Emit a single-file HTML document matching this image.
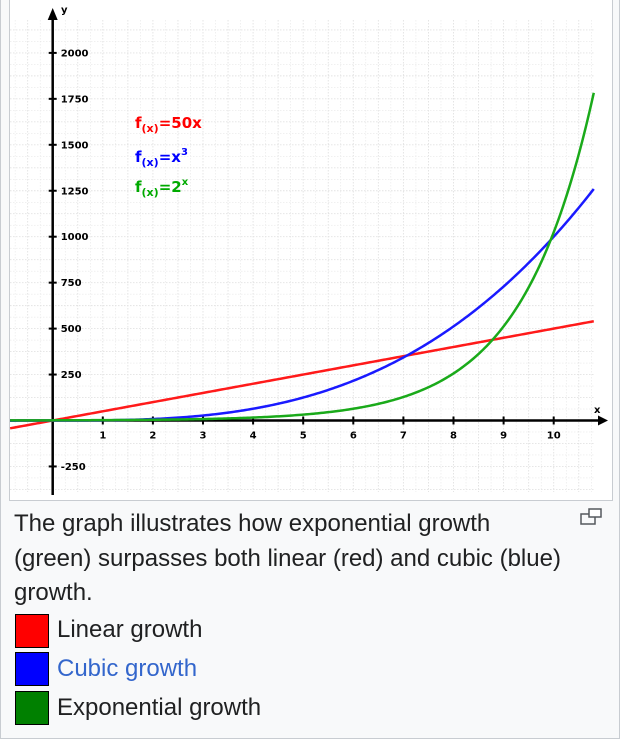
<!DOCTYPE html>
<html><head><meta charset="utf-8"><style>
body{margin:0;width:622px;height:740px;background:#fff;font-family:"Liberation Sans",sans-serif;overflow:hidden}
#fig{position:absolute;left:0;top:0;width:618px;height:738px;background:#f8f9fa;border:1px solid #c8ccd1;border-top:none}
#imgbox{position:absolute;left:8px;top:0;width:602px;height:500px;background:#fff;border:1px solid #c8ccd1;border-top:none}
.cap{position:absolute;left:14px;top:507px;width:555px;font-size:24px;line-height:34.5px;color:#202122}
.leg{position:absolute;left:15px;width:32px;height:32px;border:1px solid #000}
.lt{position:absolute;left:57px;font-size:24px;color:#202122}
</style></head><body>
<div id="fig">
<div id="imgbox"></div>
</div>
<svg id="chart" width="622" height="500" style="position:absolute;left:0;top:0">
<g id="grid"></g><g id="axes"></g><g id="series"></g>
<g font-family="DejaVu Sans, Liberation Sans, sans-serif" font-weight="bold" font-size="15">
<text x="135" y="128" fill="#ff0000">f<tspan font-size="11" dy="4">(x)</tspan><tspan dy="-4">=50x</tspan></text>
<text x="135" y="162" fill="#0000ff">f<tspan font-size="11" dy="4">(x)</tspan><tspan dy="-4">=x</tspan><tspan font-size="10" dy="-7">3</tspan></text>
<text x="135" y="192" fill="#00aa00">f<tspan font-size="11" dy="4">(x)</tspan><tspan dy="-4">=2</tspan><tspan font-size="10" dy="-7">x</tspan></text>
</g>
</svg>
<div class="cap">The graph illustrates how exponential growth (green) surpasses both linear (red) and cubic (blue) growth.</div>
<svg width="24" height="20" style="position:absolute;left:580px;top:508px"><rect x="1" y="6" width="14" height="10" fill="none" stroke="#54595d" stroke-width="1.5"/><rect x="9" y="1" width="12" height="8" fill="#fff" stroke="#54595d" stroke-width="1.5"/></svg>
<div class="leg" style="top:614px;background:#ff0000"></div>
<div class="lt" style="top:616px">Linear growth</div>
<div class="leg" style="top:652px;background:#0000ff"></div>
<div class="lt" style="top:655px;color:#3366cc">Cubic growth</div>
<div class="leg" style="top:691px;background:#008000"></div>
<div class="lt" style="top:694px">Exponential growth</div>
<script>
const xTicks=[1,2,3,4,5,6,7,8,9,10];
const yTicks=[-250,250,500,750,1000,1250,1500,1750,2000];
const linearCoef=[50];
const cubicPower=[3];
const expBase=[2];
const xDomain=[-0.85,10.8];
const NS="http://www.w3.org/2000/svg";
const X0=52.7,XS=50.1,Y0=420.5,YS=0.1838;
const sx=v=>X0+v*XS, sy=v=>Y0-v*YS;
function mk(t,a,p){const e=document.createElementNS(NS,t);for(const k in a)e.setAttribute(k,a[k]);p.appendChild(e);return e;}
const grid=document.getElementById('grid'),axes=document.getElementById('axes'),ser=document.getElementById('series');
for(let v=-0.75;v<=10.8;v+=0.25){const l=mk('line',{x1:sx(v),x2:sx(v),y1:20,y2:492,stroke:'#e2e2e2','stroke-width':Number.isInteger(v*2)?0.9:0.5,'stroke-dasharray':'1.5 1.5'},grid);

}
for(let v=-375;v<=2200;v+=62.5){if(sy(v)<20)continue;const l=mk('line',{x1:10,x2:595,y1:sy(v),y2:sy(v),stroke:'#e2e2e2','stroke-width':v%125==0?0.9:0.5,'stroke-dasharray':'1.5 1.5'},grid);

}
const xa=mk('line',{x1:10,x2:600,y1:Y0,y2:Y0,stroke:'#000','stroke-width':2.5},axes);


mk('polygon',{points:`608,${Y0} 598,${Y0-5} 598,${Y0+5}`,fill:'#000'},axes);
const ya=mk('line',{x1:X0,x2:X0,y1:18,y2:495,stroke:'#000','stroke-width':2.5},axes);


mk('polygon',{points:`${X0},8 ${X0-5},20 ${X0+5},20`,fill:'#000'},axes);
const ax=mk('text',{x:594,y:413,'font-size':10,'font-weight':'bold','font-family':'DejaVu Sans,sans-serif'},axes);ax.textContent='x';


const ay=mk('text',{x:61,y:13,'font-size':10,'font-weight':'bold','font-family':'DejaVu Sans,sans-serif'},axes);ay.textContent='y';


xTicks.forEach(v=>{mk('line',{x1:sx(v),x2:sx(v),y1:Y0-4,y2:Y0+4,stroke:'#000','stroke-width':2},axes);
const t=mk('text',{x:sx(v),y:Y0+18,'font-size':10,'font-weight':'bold','text-anchor':'middle','font-family':'DejaVu Sans,sans-serif'},axes);t.textContent=v;

});
yTicks.forEach(v=>{mk('line',{x1:X0-4,x2:X0+4,y1:sy(v),y2:sy(v),stroke:'#000','stroke-width':2},axes);
const t=mk('text',{x:X0+8,y:sy(v)+3.5,'font-size':10,'font-weight':'bold','font-family':'DejaVu Sans,sans-serif'},axes);t.textContent=v;

});
function curve(f,color,name){let d='';for(let i=0;i<=300;i++){const x=xDomain[0]+(xDomain[1]-xDomain[0])*i/300;d+=(i?'L':'M')+sx(x).toFixed(2)+','+sy(f(x)).toFixed(2);}
const p=mk('path',{d:d,fill:'none',stroke:color,'stroke-width':2.5},ser);

}
curve(x=>linearCoef[0]*x,'#ff1a1a','linear-line');
curve(x=>Math.pow(x,cubicPower[0]),'#1a1aff','cubic-line');
curve(x=>Math.pow(expBase[0],x),'#1aaa1a','exponential-line');
</script>
</body></html>
